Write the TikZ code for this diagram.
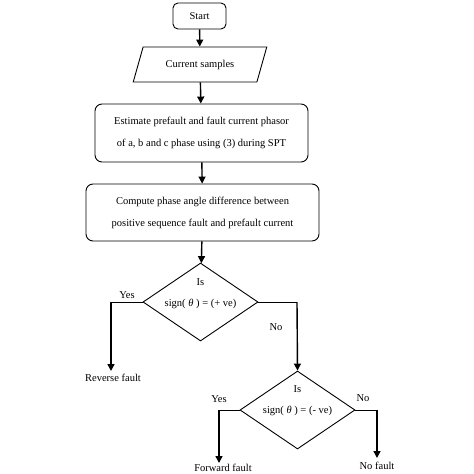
\documentclass[tikz,border=0pt]{standalone}
\usepackage{fontspec}
\setmainfont{Liberation Serif}
\usetikzlibrary{shapes.geometric,arrows.meta}
\begin{document}
\begin{tikzpicture}[x=1pt,y=-1pt,
  box/.style={draw,rounded corners=7pt,line width=0.9pt,align=center,inner sep=0pt},
  io/.style={draw,trapezium,trapezium stretches=true,trapezium left angle=58,trapezium right angle=122,minimum width=134pt,minimum height=35pt,line width=0.9pt,inner sep=0pt},
  dec/.style={draw,diamond,minimum width=115pt,minimum height=78pt,inner sep=0pt,line width=0.9pt},
  arr/.style={line width=1.4pt,-{Triangle[length=7pt,width=7pt]}},
  txt/.style={inner sep=0pt,align=center},
  font=\fontsize{10.5}{12}\selectfont]
\useasboundingbox (0,0) rectangle (474,474);
\node[box,rounded corners=5pt,minimum width=53pt,minimum height=26pt] (start) at (199.5,16) {Start};
\node[io] (samp) at (200,64.5) {Current samples};
\node[box,minimum width=213pt,minimum height=58pt,font=\fontsize{10.5}{22}\selectfont] (est) at (201.5,133) {Estimate prefault and fault current phasor\\of a, b and c phase using (3) during SPT};
\node[box,minimum width=233pt,minimum height=57pt,font=\fontsize{10.5}{22}\selectfont] (comp) at (202.5,212.5) {Compute phase angle difference between\\positive sequence fault and prefault current};
\node[dec] (d1) at (200.5,302) {};
\node[txt,font=\fontsize{10.5}{21}\selectfont] (d1t) at (200.5,294) {Is\\sign( \textit{θ} ) = (+ ve)};
\node[dec] (d2) at (297.5,410) {};
\node[txt,font=\fontsize{10.5}{21}\selectfont] (d2t) at (297.5,401) {Is\\sign( \textit{θ} ) = (- ve)};
\coordinate (yes1) at (111,302);
\coordinate (rev) at (111,371);
\coordinate (no1) at (297,302);
\coordinate (yes2) at (219,410);
\coordinate (fwd) at (219,463);
\coordinate (no2) at (377,410);
\coordinate (nof) at (377,458);
\node[txt] (revt) at (113,378) {Reverse fault};
\node[txt] (fwdt) at (223,468) {Forward fault};
\node[txt] (noft) at (377,466) {No fault};
\node[txt] (y1) at (127,295) {Yes};
\node[txt] (n1) at (276,327) {No};
\node[txt] (y2) at (219,399) {Yes};
\node[txt] (n2) at (363,398) {No};
\draw[arr] (start) -- (samp);
\draw[arr] (samp) -- (est);
\draw[arr] (est) -- (comp);
\draw[arr] (comp) -- (d1);
\draw[line width=0.9pt] (d1.west) -- (yes1);
\draw[arr] (yes1) -- (rev);
\draw[line width=0.9pt] (d1.east) -- (no1);
\draw[arr] (no1) -- (d2.north);
\draw[line width=0.9pt] (d2.west) -- (yes2);
\draw[arr] (yes2) -- (fwd);
\draw[line width=0.9pt] (d2.east) -- (no2);
\draw[arr] (no2) -- (nof);
\end{tikzpicture}
\end{document}
